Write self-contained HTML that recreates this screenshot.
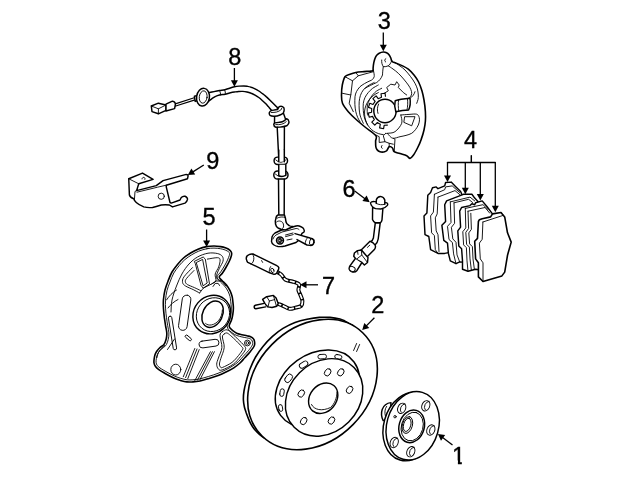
<!DOCTYPE html>
<html><head><meta charset="utf-8"><title>Brake components diagram</title>
<style>
html,body{margin:0;padding:0;background:#fff;}
svg{display:block;filter:grayscale(1);}
.lb{font-family:"Liberation Sans",Arial,sans-serif;font-size:23.5px;fill:#000;stroke:#000;stroke-width:0.35px;}
.o{stroke:#000;stroke-width:1.45;stroke-linejoin:round;stroke-linecap:round;}
.t{stroke:#000;stroke-width:0.9;stroke-linejoin:round;stroke-linecap:round;}
.h{stroke:#000;stroke-width:1.6;stroke-linejoin:round;stroke-linecap:round;}
</style></head><body>
<svg width="640" height="480" viewBox="0 0 640 480">
<rect width="640" height="480" fill="#fff"/>
<g id="rotor">
<path d="M353.4,325.8 C352.7,325.4 350.8,324.4 349.4,323.6 C348.0,322.8 346.6,322.0 345.0,321.2 C343.4,320.4 342.5,319.6 340.0,319.0 C337.5,318.4 333.4,317.7 330.0,317.4 C326.6,317.1 323.2,317.1 319.4,317.4 C315.6,317.7 311.1,318.4 307.0,319.2 C302.9,320.0 299.0,320.9 295.0,322.4 C291.0,323.9 286.8,326.1 283.0,328.4 C279.2,330.7 275.8,333.4 272.5,336.4 C269.2,339.4 265.8,343.0 263.0,346.4 C260.2,349.8 257.8,353.2 255.6,357.0 C253.4,360.8 251.6,364.9 250.0,369.0 C248.4,373.1 247.2,377.7 246.2,381.4 C245.2,385.1 244.5,387.9 244.0,391.0 C243.5,394.1 243.3,397.3 243.4,400.0 C243.5,402.7 243.9,404.9 244.4,407.0 C244.9,409.1 245.6,410.9 246.2,412.8 C246.9,414.7 247.6,416.7 248.4,418.6 C249.2,420.5 250.1,422.5 251.0,424.2 C251.9,425.9 252.9,427.4 254.0,428.8 C255.1,430.2 256.2,431.2 257.4,432.4 C258.6,433.5 259.9,434.8 261.0,435.7 C262.1,436.6 263.8,437.6 264.3,438.0 L312,384 Z" fill="#fff" stroke="none"/>
<path d="M353.4,325.8 C352.7,325.4 350.8,324.4 349.4,323.6 C348.0,322.8 346.6,322.0 345.0,321.2 C343.4,320.4 342.5,319.6 340.0,319.0 C337.5,318.4 333.4,317.7 330.0,317.4 C326.6,317.1 323.2,317.1 319.4,317.4 C315.6,317.7 311.1,318.4 307.0,319.2 C302.9,320.0 299.0,320.9 295.0,322.4 C291.0,323.9 286.8,326.1 283.0,328.4 C279.2,330.7 275.8,333.4 272.5,336.4 C269.2,339.4 265.8,343.0 263.0,346.4 C260.2,349.8 257.8,353.2 255.6,357.0 C253.4,360.8 251.6,364.9 250.0,369.0 C248.4,373.1 247.2,377.7 246.2,381.4 C245.2,385.1 244.5,387.9 244.0,391.0 C243.5,394.1 243.3,397.3 243.4,400.0 C243.5,402.7 243.9,404.9 244.4,407.0 C244.9,409.1 245.6,410.9 246.2,412.8 C246.9,414.7 247.6,416.7 248.4,418.6 C249.2,420.5 250.1,422.5 251.0,424.2 C251.9,425.9 252.9,427.4 254.0,428.8 C255.1,430.2 256.2,431.2 257.4,432.4 C258.6,433.5 259.9,434.8 261.0,435.7 C262.1,436.6 263.8,437.6 264.3,438.0" class="h" fill="none"/>
<ellipse cx="312.5" cy="384.5" rx="72.1" ry="57" transform="rotate(-45.6 312.5 384.5)" class="h" fill="#fff"/>
<ellipse cx="317.3" cy="388.7" rx="45.4" ry="34.6" transform="rotate(-36 317.3 388.7)" class="o" fill="#fff"/>
<ellipse cx="324.1" cy="397.4" rx="42.3" ry="34.8" transform="rotate(-45 324.1 397.4)" class="o" fill="#fff"/>
<ellipse cx="323.2" cy="398.2" rx="16.5" ry="13.2" transform="rotate(-50 323.2 398.2)" class="o" fill="#fff"/>
<path d="M311.5,404.5 C314,410 322,411.5 330.5,407.5 C334.5,404 337,398 337,392" class="t" fill="none"/>
<ellipse cx="301.3" cy="393.5" rx="3.9" ry="2.9" transform="rotate(-55 301.3 393.5)" class="t" fill="#fff"/>
<ellipse cx="327.7" cy="372.3" rx="3.9" ry="2.9" transform="rotate(-55 327.7 372.3)" class="t" fill="#fff"/>
<ellipse cx="340.8" cy="372.3" rx="3.9" ry="2.9" transform="rotate(-55 340.8 372.3)" class="t" fill="#fff"/>
<ellipse cx="349.6" cy="389.8" rx="3.9" ry="2.9" transform="rotate(-55 349.6 389.8)" class="t" fill="#fff"/>
<ellipse cx="331.5" cy="420.5" rx="3.9" ry="2.9" transform="rotate(-55 331.5 420.5)" class="t" fill="#fff"/>
<ellipse cx="303.7" cy="421" rx="3.9" ry="2.9" transform="rotate(-55 303.7 421)" class="t" fill="#fff"/>
<rect x="317.9" y="354.40000000000003" width="8.6" height="4.4" rx="2.2" ry="2.2" transform="rotate(-3 322.2 356.6)" class="t" fill="#fff"/>
<rect x="334.7" y="354.8" width="7.2" height="4.0" rx="2.0" ry="2.0" transform="rotate(12 338.3 356.8)" class="t" fill="#fff"/>
<rect x="299.0" y="362.1" width="9.2" height="5.0" rx="2.5" ry="2.5" transform="rotate(-32 303.6 364.6)" class="t" fill="#fff"/>
<rect x="284.0" y="375.5" width="9.2" height="5.6" rx="2.8" ry="2.8" transform="rotate(-52 288.6 378.3)" class="t" fill="#fff"/>
<rect x="278.2" y="390.6" width="7.6" height="4.0" rx="2.0" ry="2.0" transform="rotate(-80 282 392.6)" class="t" fill="#fff"/>
<rect x="277.20000000000005" y="406.1" width="6.8" height="3.8" rx="1.9" ry="1.9" transform="rotate(-100 280.6 408)" class="t" fill="#fff"/>
<path d="M353.6,350.5 L356.6,343.5 M356.6,351.5 L359.6,344.5" class="t" fill="none"/>
</g>
<g id="hub">
<path d="M391,402.6 C387,403 383.6,405.6 382.2,409.4 C381,413 381.4,417 383.2,420.6 L390,418 Z" class="o" fill="#fff"/>
<path d="M386.6,406.4 C384.8,409 384.4,412.6 385.4,416" class="t" fill="none"/>
<ellipse cx="409.6" cy="426.6" rx="34.8" ry="25.9" transform="rotate(-74 409.6 426.6)" class="o" fill="#fff"/>
<ellipse cx="412.7" cy="425.8" rx="34.8" ry="25.9" transform="rotate(-74 412.7 425.8)" class="o" fill="#fff"/>
<ellipse cx="411.7" cy="426.3" rx="16.6" ry="12.6" transform="rotate(-74 411.7 426.3)" class="o" fill="#fff"/>
<ellipse cx="412.2" cy="426.5" rx="14.6" ry="10.8" transform="rotate(-74 412.2 426.5)" class="t" fill="#fff"/>
<ellipse cx="407.4" cy="425" rx="8.6" ry="5.0" transform="rotate(-74 407.4 425)" class="t" fill="#fff"/>
<ellipse cx="407.2" cy="424.8" rx="6.8" ry="3.6" transform="rotate(-74 407.2 424.8)" class="t" fill="#fff"/>
<ellipse cx="401.7" cy="408.3" rx="5.4" ry="3.9" transform="rotate(-66 401.7 408.3)" class="t" fill="#fff"/>
<path d="M404.87,403.90 A4.9 3.5 -66 0 0 401.13,412.30" class="t" fill="none"/>
<ellipse cx="425.8" cy="405.8" rx="5.4" ry="3.9" transform="rotate(-66 425.8 405.8)" class="t" fill="#fff"/>
<path d="M428.97,401.40 A4.9 3.5 -66 0 0 425.23,409.80" class="t" fill="none"/>
<ellipse cx="430.8" cy="430" rx="5.4" ry="3.9" transform="rotate(-66 430.8 430)" class="t" fill="#fff"/>
<path d="M433.97,425.60 A4.9 3.5 -66 0 0 430.23,434.00" class="t" fill="none"/>
<ellipse cx="410.8" cy="451.7" rx="5.4" ry="3.9" transform="rotate(-66 410.8 451.7)" class="t" fill="#fff"/>
<path d="M413.97,447.30 A4.9 3.5 -66 0 0 410.23,455.70" class="t" fill="none"/>
<ellipse cx="394.2" cy="442.5" rx="5.4" ry="3.9" transform="rotate(-66 394.2 442.5)" class="t" fill="#fff"/>
<path d="M397.37,438.10 A4.9 3.5 -66 0 0 393.63,446.50" class="t" fill="none"/>
<ellipse cx="395" cy="416.7" rx="1.2" ry="1.2" transform="rotate(0 395 416.7)" class="t" fill="#fff"/>
</g>
<g id="abs">
<path d="M151.3,106.0 L158.4,103.2 L166.0,105.0 L166.0,110.4 L158.4,113.8 L152.0,111.6 Z" class="o" fill="#fff"/>
<path d="M151.3,106.0 L158.4,108.8 L166.0,105.0" class="t" fill="none"/>
<path d="M158.4,108.8 L158.4,113.8" class="t" fill="none"/>
<path d="M166,104.2 L172.4,101.2 C174.5,101.6 175.6,103 175.3,104.8 L174.6,108.6 L166,111 Z" class="o" fill="#fff"/>
<path d="M175.3,103.9 L195,97.5 M175,106.3 L195,99.9" stroke="#000" stroke-width="1.15" fill="none"/>
<path d="M194.4,96.2 L198.6,95.2 L199.4,100.4 L195.2,101.4 Z" class="o" fill="#fff"/>
<path d="M208.5,92.8 C209.4,92.6 212.2,92.0 214.0,91.6 C215.8,91.2 217.7,90.8 219.5,90.5 C221.3,90.2 223.3,90.1 225.0,89.7 C226.7,89.3 228.0,88.7 229.6,88.2 C231.2,87.7 232.8,87.2 234.4,86.8 C236.0,86.4 237.4,86.2 239.0,86.1 C240.6,86.0 242.3,86.0 243.8,86.0 C245.2,86.0 246.3,86.2 247.6,86.4 C248.8,86.6 250.0,86.9 251.2,87.3 C252.5,87.7 253.8,88.3 255.0,88.9 C256.2,89.5 257.5,90.2 258.8,91.0 C260.0,91.8 261.2,92.7 262.5,93.6 C263.8,94.5 265.0,95.5 266.2,96.6 C267.5,97.7 268.8,99.0 270.0,100.2 C271.2,101.4 272.4,102.6 273.8,104.0 C275.1,105.4 277.6,107.7 278.4,108.4 L272.4,111.6 C272.2,111.3 271.7,110.7 271.0,109.8 C270.3,108.9 269.1,107.5 268.2,106.4 C267.2,105.3 266.3,104.2 265.3,103.2 C264.3,102.2 263.1,101.2 262.0,100.2 C260.9,99.2 259.9,98.3 258.8,97.5 C257.6,96.7 256.2,95.9 255.0,95.2 C253.8,94.5 252.6,93.8 251.2,93.3 C249.9,92.8 248.4,92.3 247.0,92.0 C245.6,91.7 244.2,91.5 242.8,91.4 C241.4,91.3 240.0,91.4 238.6,91.5 C237.2,91.6 235.9,91.8 234.4,92.0 C232.9,92.2 231.2,92.6 229.6,93.0 C228.0,93.4 226.7,93.9 225.0,94.2 C223.3,94.5 221.1,94.6 219.5,95.0 C217.9,95.4 216.8,95.8 215.6,96.4 C214.3,97.0 213.2,97.8 212.0,98.6 C210.8,99.4 209.1,100.9 208.5,101.4 Z" class="o" fill="#fff"/>
<path d="M224.4,89.8 C225.3,91.2 225.6,92.8 225.3,94.2 M219.4,90.6 C220.4,92.2 220.7,93.8 220.5,95" class="t" fill="none"/>
<ellipse cx="203" cy="97.2" rx="6.4" ry="8.9" transform="rotate(8 203 97.2)" class="o" fill="#fff"/>
<ellipse cx="203.2" cy="97" rx="3.9" ry="6.2" transform="rotate(8 203.2 97)" class="t" fill="#fff"/>
<path d="M274.6,115 L274.5,124 L286.2,121 L283.2,112.6 Z" class="o" fill="#fff"/>
<path d="M269.2,112.9 C269.6,111.6 270.6,110.8 271.7,110.4 L277.5,109.6 C278.2,108.4 278.6,107.4 279.2,106.7 C280.4,106.2 281.6,106.2 282.5,106.7 C283.8,107.4 284.4,108.4 284.2,109.6 C284.2,110.8 283.9,111.9 283.3,112.9 C282.4,113.8 281.2,114.5 280,115 C278,115.9 276,116.3 274.2,116.25 C272.4,116.3 271,116.1 270,115.4 C269.4,114.6 269.1,113.8 269.2,112.9 Z" class="o" fill="#fff"/>
<path d="M271.25,112.5 C273,112.6 275,112.4 276.7,112 C278.4,111.4 279.8,110.8 280.8,110 C281.4,109.4 281.6,108.8 281.7,108.3" class="t" fill="none"/>
<path d="M273.75,124.4 C274,123.6 274.4,123.2 275,122.9 L281.7,122 C283.4,121.4 284.8,120.6 285.8,119.6 L286.25,118.75 C287.2,118.9 287.9,119.4 288.3,120 C289,121.2 289.2,122.3 288.75,123.3 C288.3,124.4 287.6,125.2 286.7,125.8 C284.6,126.6 282.4,127 280,127.1 L275.6,127.2 C274.4,126.6 273.8,125.6 273.75,124.4 Z" class="o" fill="#fff"/>
<path d="M275.8,124.6 C277.8,124.8 279.8,124.7 281.7,124.2 C283.6,123.6 285.2,122.8 286.25,121.7" class="t" fill="none"/>
<path d="M277.2,127.2 L278.75,158.5 M284.4,126.4 L284.3,158.5" class="o" fill="none"/>
<g transform="rotate(0 280.8 160.8)">
<rect x="274.10" y="157.10" width="13.4" height="7.4" rx="3.50" ry="3.50" class="o" fill="#fff"/>
<path d="M275.70,159.90 Q280.80,165.10 286.10,159.70" class="t" fill="none"/>
</g>
<rect x="278.75" y="150" width="5.5" height="11.4" fill="#fff" stroke="none"/>
<path d="M278.75,150 L278.75,161.6 M284.3,150 L284.3,161.8" class="o" fill="none"/>
<g transform="rotate(0 280.9 175)">
<rect x="273.80" y="171.00" width="14.2" height="8" rx="3.80" ry="3.80" class="o" fill="#fff"/>
<path d="M275.40,174.10 Q280.90,179.60 286.60,173.90" class="t" fill="none"/>
</g>
<path d="M278.75,164.8 L278.75,175.6 C280.5,176.6 283.5,176.6 285.8,175.4 L285.8,164.8" class="o" fill="#fff"/>
<path d="M278.5,179.2 L278.8,214.5 M284.3,179.2 L284.2,214.5" class="o" fill="none"/>
<path d="M272,237 C272.6,235.2 273.6,234 275,233 L281.5,230 L296,226 C297.6,225.6 299.2,225.8 300.5,226.5 C302.4,227.2 303.6,228.2 304,229.5 C304.4,230.6 304.4,231.4 304,232 L302,233.4 L298.5,240.5 L296,242.5 L285,246 C282.6,246.6 280.2,246.8 278,246.5 C276.2,246.2 275,245.6 274,245 C272.4,244 271.6,242.8 271.5,241.5 Z" class="o" fill="#fff"/>
<path d="M273,239 C273.6,237.4 274.6,236 276,235 L282,232 L296,228.5 C297.2,228.4 298.2,228.8 299,229.5" class="t" fill="none"/>
<path d="M285.5,235 L293,233 M285.6,236.6 L293.2,234.6 M287,240 L292,239" class="t" fill="none"/>
<path d="M278,215 C276.6,215.8 276,216.8 276,218 C275.2,220 275.2,222 275.5,224 C275.9,225.8 276.8,227.2 278,228 L281.5,229.5 L285.6,230 L293,226.5 C291.4,226.6 290,226.2 289,225.5 C287.4,224.6 286.4,223.4 286,222 C285.8,219.6 285.4,217.2 284.5,215 Z" class="o" fill="#fff"/>
<path d="M277,218.2 C279.6,216.8 282.6,216.6 285,217.4" class="t" fill="none"/>
<path d="M276.5,222 C277.4,221.2 278.4,221 279.5,221 C281.2,221.2 282.4,222 283,223 C283.6,224.4 283.8,225.8 283.5,227 C283,228.2 282.4,229 281.5,229.5" class="t" fill="none"/>
<ellipse cx="280" cy="240.5" rx="3.5" ry="3.5" transform="rotate(0 280 240.5)" class="o" fill="#fff"/>
<ellipse cx="280" cy="240.5" rx="2.2" ry="2.2" transform="rotate(0 280 240.5)" class="t" fill="none"/>
<ellipse cx="280" cy="240.5" rx="1.2" ry="1.2" transform="rotate(0 280 240.5)" class="t" fill="none"/>
<path d="M295,233.6 L310,238 C312.6,238.6 314.2,240.4 314,242.4 C313.6,244.6 312,245.8 310,245.4 L307,245 L297,239.6" class="o" fill="#fff"/>
<ellipse cx="311.8" cy="241.8" rx="2.2" ry="3.5" transform="rotate(15 311.8 241.8)" class="t" fill="none"/>
<path d="M307,238.4 C305.8,240 305.2,242 305.2,244" class="t" fill="none"/>
</g>
<g id="bracket">
<path d="M128.75,178.75 L142.5,173.1 L153.1,179.4 L138.75,183.75 L136.6,190.6 L156.25,185.6 L163.1,180.6 L186.25,174.4 C187.4,174.4 188.2,175 188.1,175.8 L187.5,178.75 L166.25,185.2 L166.25,186.9 L170,202.5 L171.25,203.1 L180,200 L181.25,197.5 C182.4,196.4 183.8,196 185,196.25 C186.6,197 187.6,198.2 187.5,199.4 C187.2,201 186.4,202.2 185,203.1 L172.5,206.9 L169.4,205 C166.8,204.6 164,204.6 161.25,205 C158.4,206 155.4,207 152.5,207.5 C149.4,207.8 146.4,207.6 143.75,206.9 C141,205.8 138.4,204.4 136.25,202.5 C135,201.4 134.2,200.2 133.75,198.75 C131.4,198 129.8,196.8 129.4,195 Z" class="o" fill="#fff"/>
<path d="M128.8,178.8 L138.8,183.8" class="t" fill="none"/>
<path d="M136.6,190.6 L135.0,191.4 L134.4,200.0" class="t" fill="none"/>
<path d="M137.0,192.2 L157.5,187.2 L166.2,185.2" class="t" fill="none"/>
<ellipse cx="161.25" cy="196.25" rx="3.1" ry="3.1" transform="rotate(0 161.25 196.25)" class="t" fill="none"/>
<path d="M142,178.9 C142,177.6 143.4,177 144.4,177.6 C145,178 145.2,178.8 144.9,179.4" class="t" fill="none"/>
</g>
<g id="shield">
<path d="M206.6,246.6 C209.3,246.1 211.7,246.0 214.0,246.0 C216.3,246.0 218.6,246.3 220.6,246.6 C222.6,246.9 224.4,247.4 226.0,248.0 C227.6,248.6 229.1,249.5 230.0,250.3 C230.9,251.1 231.4,251.9 231.6,252.8 C231.8,253.8 231.7,254.6 231.3,256.0 C230.9,257.4 230.2,259.2 229.4,261.0 C228.6,262.8 227.4,265.0 226.2,267.0 C225.1,269.0 223.7,271.3 222.5,273.0 C221.3,274.7 219.3,275.8 219.2,277.0 C219.1,278.2 220.8,279.2 222.0,280.5 C223.2,281.8 225.2,283.3 226.5,285.0 C227.8,286.7 229.1,288.8 230.0,290.6 C230.9,292.4 231.5,294.3 232.0,296.0 C232.5,297.7 232.6,299.0 232.8,301.0 C233.0,303.0 233.4,305.8 233.4,308.0 C233.4,310.2 233.1,312.4 232.8,314.4 C232.5,316.4 232.1,318.2 231.5,320.0 C230.9,321.8 229.6,323.7 229.3,325.0 C229.1,326.3 228.9,326.7 230.0,328.0 C231.1,329.3 233.9,331.6 235.6,332.6 C237.3,333.7 238.1,333.8 240.0,334.3 C241.9,334.8 245.1,335.4 246.9,335.8 C248.7,336.2 249.5,336.2 250.6,336.7 C251.7,337.2 252.7,337.9 253.4,338.8 C254.1,339.6 254.5,340.8 254.6,342.0 C254.7,343.2 255.0,344.3 254.2,346.0 C253.4,347.7 251.5,350.1 250.0,352.0 C248.5,353.9 246.7,355.7 245.0,357.5 C243.3,359.3 241.9,361.3 240.0,363.0 C238.1,364.7 236.1,366.3 233.8,367.8 C231.4,369.3 228.5,370.8 226.0,372.0 C223.5,373.2 221.6,374.2 218.8,375.3 C215.9,376.4 212.1,377.6 209.0,378.5 C205.9,379.4 202.7,380.4 200.0,381.0 C197.3,381.6 195.2,381.8 193.0,381.9 C190.8,382.0 189.1,382.2 186.9,381.9 C184.7,381.6 182.2,380.9 180.0,380.3 C177.8,379.7 176.1,379.1 173.8,378.0 C171.4,376.9 168.5,375.4 166.0,374.0 C163.5,372.6 160.5,370.9 158.8,369.7 C157.0,368.4 156.3,367.6 155.5,366.5 C154.7,365.4 154.2,364.3 154.0,363.0 C153.8,361.7 154.0,359.9 154.2,358.5 C154.4,357.1 154.6,355.9 155.0,354.7 C155.4,353.5 155.8,352.7 156.6,351.5 C157.4,350.3 158.8,348.7 160.0,347.5 C161.2,346.3 163.0,345.8 164.0,344.4 C165.0,343.0 165.7,340.9 166.2,339.0 C166.7,337.1 166.9,335.2 166.8,333.0 C166.7,330.8 166.0,328.5 165.6,326.0 C165.2,323.5 164.8,320.8 164.4,318.0 C164.1,315.2 163.7,312.0 163.5,309.0 C163.3,306.0 163.2,303.2 163.4,300.0 C163.7,296.8 164.2,293.1 165.0,290.0 C165.8,286.9 166.8,284.2 168.0,281.2 C169.2,278.2 170.4,274.8 172.0,272.0 C173.6,269.2 175.6,266.7 177.5,264.4 C179.4,262.1 181.3,259.9 183.5,258.0 C185.7,256.1 188.2,254.5 190.6,253.0 C193.0,251.5 195.3,250.3 198.0,249.2 C200.7,248.1 203.9,247.1 206.6,246.6 Z" class="h" fill="#fff"/>
<path d="M207.0,248.7 C209.5,248.2 211.8,248.1 214.0,248.1 C216.2,248.1 218.4,248.4 220.3,248.7 C222.1,249.0 223.8,249.4 225.2,250.0 C226.6,250.5 227.9,251.3 228.6,251.9 C229.4,252.4 229.4,252.7 229.6,253.3 C229.7,253.9 229.6,254.3 229.3,255.5 C228.9,256.6 228.3,258.4 227.5,260.1 C226.7,261.9 225.5,264.0 224.4,266.0 C223.3,267.9 222.0,270.0 220.8,271.8 C219.6,273.6 217.2,275.2 217.1,276.9 C217.0,278.5 219.2,280.3 220.4,281.9 C221.7,283.5 223.6,284.7 224.9,286.3 C226.1,287.9 227.3,289.8 228.1,291.5 C229.0,293.2 229.5,294.9 230.0,296.5 C230.4,298.2 230.5,299.3 230.7,301.2 C230.9,303.2 231.3,305.9 231.3,308.0 C231.3,310.1 231.0,312.2 230.7,314.1 C230.4,316.0 230.1,317.6 229.5,319.3 C228.9,321.1 227.4,322.9 227.2,324.6 C227.0,326.3 227.2,327.7 228.4,329.3 C229.6,331.0 232.6,333.2 234.5,334.4 C236.3,335.5 237.4,335.7 239.4,336.3 C241.4,336.9 244.7,337.5 246.4,337.8 C248.2,338.2 248.9,338.3 249.7,338.6 C250.6,339.0 251.3,339.4 251.7,340.0 C252.2,340.6 252.4,341.4 252.5,342.2 C252.6,343.1 253.0,343.7 252.3,345.1 C251.6,346.5 249.8,348.9 248.4,350.7 C246.9,352.5 245.1,354.3 243.4,356.1 C241.8,357.9 240.4,359.8 238.6,361.5 C236.8,363.1 234.9,364.6 232.6,366.0 C230.4,367.5 227.5,368.9 225.1,370.1 C222.6,371.3 220.8,372.3 218.0,373.3 C215.2,374.4 211.5,375.6 208.4,376.5 C205.3,377.4 202.2,378.4 199.6,378.9 C197.0,379.5 194.9,379.7 192.9,379.8 C190.8,379.9 189.2,380.1 187.2,379.8 C185.1,379.6 182.7,378.9 180.6,378.3 C178.5,377.7 176.9,377.1 174.6,376.1 C172.3,375.1 169.5,373.5 167.0,372.2 C164.6,370.8 161.6,369.1 160.0,368.0 C158.3,366.8 157.9,366.2 157.2,365.3 C156.6,364.4 156.2,363.8 156.1,362.7 C155.9,361.6 156.1,360.0 156.3,358.8 C156.4,357.5 156.6,356.4 157.0,355.4 C157.3,354.4 157.6,353.8 158.3,352.7 C159.1,351.6 160.2,350.2 161.5,349.0 C162.7,347.8 164.6,347.2 165.7,345.6 C166.8,344.1 167.7,341.6 168.2,339.5 C168.8,337.4 169.0,335.2 168.9,332.9 C168.8,330.6 168.1,328.2 167.7,325.7 C167.3,323.1 166.8,320.5 166.5,317.7 C166.1,314.9 165.8,311.8 165.6,308.9 C165.4,306.0 165.3,303.2 165.5,300.2 C165.7,297.1 166.3,293.5 167.0,290.5 C167.8,287.5 168.8,284.9 170.0,282.0 C171.1,279.1 172.3,275.7 173.8,273.0 C175.4,270.3 177.3,268.0 179.1,265.7 C181.0,263.5 182.8,261.4 184.9,259.6 C187.0,257.8 189.4,256.2 191.7,254.8 C194.0,253.4 196.2,252.2 198.8,251.1 C201.3,250.1 204.5,249.2 207.0,248.7 Z" class="t" fill="none"/>
<path d="M221.6,281.0 C220.9,280.7 218.1,279.9 217.3,279.0 C216.5,278.1 216.2,277.2 216.6,275.4 C216.9,273.6 218.3,270.7 219.4,268.3 C220.5,265.9 222.5,263.2 223.0,261.2 C223.5,259.2 223.2,257.6 222.3,256.3 C221.4,255.0 219.7,254.0 217.3,253.5 C214.9,253.0 211.3,252.6 208.0,253.2 C204.7,253.8 200.7,255.2 197.5,257.0 C194.3,258.8 191.6,261.2 189.0,264.0 C186.4,266.8 184.0,270.3 181.9,274.0 C179.8,277.7 178.2,281.7 176.5,286.0 C174.8,290.3 172.9,295.7 172.0,300.0 C171.1,304.3 171.2,310.0 171.0,312.0" class="t" fill="none"/>
<path d="M194.7,261.2 L203.2,257.0 L205.3,259.1 L209.5,283.9 L203.2,288.2 L201.0,285.3 L195.4,264.0 Z" class="t" fill="none"/>
<path d="M196.6,262.4 L202.6,259.4 L207.2,283.0 L203.4,285.6 Z" class="t" fill="none"/>
<path d="M207.4,259.1 C209.1,258.9 215.2,257.6 217.3,257.7 C219.4,257.8 219.9,258.3 220.1,259.8 C220.3,261.3 219.5,264.5 218.7,266.9 C217.9,269.3 215.7,271.6 215.2,274.0 C214.7,276.4 216.5,279.4 215.9,281.0 C215.3,282.6 212.4,283.4 211.7,283.9" class="t" fill="none"/>
<path d="M192.5,267.6 C191.1,269.1 185.7,274.3 184.0,276.8 C182.3,279.3 182.3,281.0 182.6,282.5 C182.8,284.0 183.7,284.8 185.5,286.0 C187.3,287.2 190.8,288.4 193.2,289.6 C195.5,290.8 198.5,292.4 199.6,293.0" class="t" fill="none"/>
<path d="M194.0,270.5 C192.8,271.8 187.9,276.6 186.5,278.5 C185.1,280.4 185.2,281.0 185.4,282.0 C185.6,283.0 186.0,283.7 187.5,284.6 C189.0,285.5 192.2,286.6 194.4,287.6 C196.6,288.6 199.5,290.0 200.5,290.5" class="t" fill="none"/>
<ellipse cx="211.8" cy="314.6" rx="20" ry="18.2" transform="rotate(-50 211.8 314.6)" class="o" fill="#fff"/>
<ellipse cx="213" cy="314.6" rx="17.6" ry="16" transform="rotate(-50 213 314.6)" class="t" fill="#fff"/>
<ellipse cx="212.6" cy="314.2" rx="13.9" ry="9.9" transform="rotate(-64 212.6 314.2)" class="o" fill="#fff"/>
<path d="M205.6,323.5 C208.5,326.4 214.4,325.4 218.6,320.6 C221,317.6 222.4,313.6 222.4,310" class="t" fill="none"/>
<path d="M199.6,293 L203.2,288.2 L211.7,283.9 L215.9,281 L221.6,281 L226,286" class="t" fill="none"/>
<path d="M213,286.5 L215.2,283.4 L218.2,283.4 L219.5,285.5" class="t" fill="none"/>
<rect x="180.4" y="295" width="8.6" height="35.5" rx="4.3" ry="4.3" transform="rotate(8 184.7 312.7)" class="t" fill="none"/>
<rect x="170.8" y="316" width="3.4" height="34" rx="1.7" ry="1.7" transform="rotate(-9 172.5 333)" class="t" fill="none"/>
<path d="M168,308 C170,305 174,301.5 178,299.5 M166.5,300 C169,296 172.5,292.5 176.5,290" class="t" fill="none"/>
<rect x="184.6" y="336.6" width="7.4" height="2.6" rx="1.3" ry="1.3" transform="rotate(40 188.3 337.9)" class="t" fill="none"/>
<rect x="199" y="340.2" width="20" height="6.8" rx="3.4" ry="3.4" transform="rotate(-8 209 343.6)" class="t" fill="none"/>
<path d="M194.8,348.5 L183.3,376.7 M197,349 L185.6,377.6 M199.2,349.6 L187.8,378.6" class="t" fill="none"/>
<path d="M210.4,351.7 L194.8,380.6 M212.4,351.7 L197.4,380.2 M214.4,351.7 L200,379.6" class="t" fill="none"/>
<path d="M222.6,331.5 C221.4,332.4 220.1,332.8 220.0,335.5 C219.9,338.2 222.2,343.8 221.9,347.5 C221.6,351.2 219.3,355.2 218.4,358.0 C217.5,360.8 216.7,362.4 216.7,364.2 C216.7,366.0 217.3,367.8 218.2,368.8 C219.1,369.8 219.5,370.8 222.0,370.0 C224.5,369.2 230.2,366.4 233.3,364.2 C236.4,361.9 238.5,358.9 240.5,356.5 C242.5,354.1 244.9,351.3 245.5,349.5 C246.1,347.7 245.2,347.2 244.0,345.5 C242.8,343.8 240.2,341.5 238.2,339.5 C236.2,337.5 233.9,335.1 232.0,333.5 C230.1,331.9 228.6,330.1 227.0,329.8 C225.4,329.5 223.8,330.6 222.6,331.5 Z" class="t" fill="none"/>
<path d="M224.2,334.0 C223.4,334.7 222.4,334.8 222.4,337.0 C222.4,339.2 224.5,343.9 224.2,347.5 C223.9,351.1 221.6,355.8 220.8,358.5 C220.0,361.2 219.5,362.6 219.4,364.0 C219.3,365.4 219.9,366.4 220.4,367.0 C220.9,367.6 220.7,368.2 222.6,367.4 C224.5,366.6 229.3,364.4 232.0,362.4 C234.7,360.4 236.7,357.7 238.5,355.5 C240.3,353.3 242.3,350.7 242.8,349.2 C243.3,347.7 242.7,348.0 241.6,346.6 C240.5,345.2 238.2,342.8 236.4,341.0 C234.6,339.2 232.2,336.9 230.6,335.6 C229.0,334.3 228.1,333.3 227.0,333.0 C225.9,332.7 225.0,333.3 224.2,334.0 Z" class="t" fill="none"/>
<ellipse cx="247.4" cy="343" rx="2.9" ry="2.9" transform="rotate(0 247.4 343)" class="t" fill="#fff"/>
<ellipse cx="247.4" cy="343" rx="1.4" ry="1.4" transform="rotate(0 247.4 343)" class="t" fill="#fff"/>
<ellipse cx="175.8" cy="369.6" rx="5" ry="5.4" transform="rotate(0 175.8 369.6)" class="t" fill="#fff"/>
<path d="M164.6,345.5 C160,349 157.5,353 157,357.5 M167.5,349.5 L174.5,339" class="t" fill="none"/>
</g>
<g id="wear">
<path d="M273.5,270.0 C274.7,270.7 278.9,272.7 280.9,274.3 C282.9,275.9 283.7,278.6 285.6,279.8 C287.5,281.0 290.1,280.8 292.3,281.5 C294.5,282.2 298.0,282.9 299.0,284.3 C300.0,285.7 298.2,288.2 298.4,290.0 C298.6,291.8 299.7,293.2 300.4,295.0 C301.1,296.8 302.3,299.2 302.4,301.0 C302.5,302.8 302.1,304.9 301.0,306.0 C299.9,307.1 297.5,307.1 295.6,307.6 C293.7,308.1 291.6,309.1 289.5,308.8 C287.4,308.5 284.8,306.6 283.0,305.8 C281.2,305.0 279.2,304.3 278.5,304.0" fill="none" stroke="#000" stroke-width="4.0" stroke-linecap="round"/>
<path d="M273.5,270.0 C274.7,270.7 278.9,272.7 280.9,274.3 C282.9,275.9 283.7,278.6 285.6,279.8 C287.5,281.0 290.1,280.8 292.3,281.5 C294.5,282.2 298.0,282.9 299.0,284.3 C300.0,285.7 298.2,288.2 298.4,290.0 C298.6,291.8 299.7,293.2 300.4,295.0 C301.1,296.8 302.3,299.2 302.4,301.0 C302.5,302.8 302.1,304.9 301.0,306.0 C299.9,307.1 297.5,307.1 295.6,307.6 C293.7,308.1 291.6,309.1 289.5,308.8 C287.4,308.5 284.8,306.6 283.0,305.8 C281.2,305.0 279.2,304.3 278.5,304.0" fill="none" stroke="#fff" stroke-width="1.7" stroke-dasharray="5.2 1.5" stroke-linecap="butt"/>
<path d="M249,254.6 C247,255.4 246,257.4 246.4,259.4 C246.8,261.2 247.4,262 247.8,262.3 L269.6,272.8 L274,274.4 C276,274.2 277.4,272.8 277.6,271 C278.4,270 278.9,268.8 278.8,267.6 C278.4,266.6 277.8,266 276.8,265.6 L253,254 C251.6,253.8 250.2,254 249,254.6 Z" class="o" fill="#fff"/>
<path d="M252.6,254.4 C254,256 254.2,258.6 253.4,261 C252.8,262.6 252,263.6 251,264" class="t" fill="none"/>
<path d="M270.6,266.6 C269.4,268.6 269,270.6 269.4,272.6" class="t" fill="none"/>
<ellipse cx="272.4" cy="270.4" rx="1.5" ry="2.2" transform="rotate(-20 272.4 270.4)" class="t" fill="#fff"/>
<path d="M261.6,260.6 L262.6,262.4" class="t" fill="none"/>
<path d="M262.6,299.4 L266.7,296.7 L273.4,295.4 L276.1,298 L278.2,303.5 L276.8,306.2 L272,307.5 L268,306.9 L265.3,304.2 Z" class="o" fill="#fff"/>
<path d="M266.7,296.7 L269.4,301 L268,306.9 M269.4,301 L274.6,299.6 M274.6,299.6 L276.4,306 M274.6,299.6 L273.4,295.4" class="t" fill="none"/>
<path d="M264.2,303.4 L255.4,305.2 C253.6,305.8 253.8,308.6 255.8,308.8 L265.6,306.9" class="o" fill="#fff"/>
</g>
<g id="hose">
<path d="M375.3,222.8 L373.4,238 C372.8,240 371.6,241.4 370.4,242.2 L375,245 C376.6,243.6 377.8,241.6 378.2,239 L380.2,222.8 Z" class="o" fill="#fff"/>
<path d="M372.6,207.6 L372.5,219.6 C373.2,221.4 374.2,222.4 375.3,222.8 L380.2,222.8 C381.2,222.2 381.8,221.2 382,219.8 L382.9,208.2 Z" class="o" fill="#fff"/>
<path d="M370.6,203.4 C370.4,201.8 372.2,201.4 374.6,201.6 L386,202.6 C387.8,203 388,204.6 387.4,205.4 C385.6,207.6 383.4,208.8 381,209 L375.6,208.6 C373,207.8 371.2,205.6 370.6,203.4 Z" class="o" fill="#fff"/>
<path d="M376.2,203.4 L376.4,199.6 C377.2,197.4 378.8,196.4 380.4,196.4 C382.6,196.6 384.2,198 384.8,200 L384.8,204.2" class="o" fill="#fff"/>
<path d="M376.2,203.4 C378.6,204.8 382.4,205.2 384.8,204.2" class="t" fill="none"/>
<path d="M370,241.2 L361.2,250 L366.9,257 L374.4,249.6 C375.6,248 375.8,246.4 375,245 C373.8,243 372,241.6 370,241.2 Z" class="o" fill="#fff"/>
<path d="M367.4,247.4 L369.8,245.2" class="t" fill="none"/>
<path d="M357.5,250.6 L361.25,250 L368,257.5 L367.5,262.5 L364.4,265 L361.9,262.5 L356.25,259.4 L353.75,256.25 L354.4,253 Z" class="o" fill="#fff"/>
<path d="M361.25,250 L361.8,255 L367.5,262.5 M361.8,255 L356.25,259.4 M357.5,250.6 L358,254.4" class="t" fill="none"/>
<path d="M355.2,258.8 L349.6,266.4 C348.8,268.6 349.8,270.6 351.6,271.6 C353.6,272.4 355.6,272 357,270.4 L361.6,263" class="o" fill="#fff"/>
<ellipse cx="352.2" cy="269" rx="3.1" ry="2.4" transform="rotate(25 352.2 269)" class="t" fill="#fff"/>
</g>
<g id="caliper">
<path d="M373.1,70.4 C373.2,70.0 373.1,69.3 373.1,68.6 C373.1,67.9 373.2,67.0 373.3,66.0 C373.4,65.0 373.6,63.8 373.8,62.6 C374.1,61.4 374.4,60.2 374.8,59.0 C375.2,57.8 375.7,56.6 376.4,55.6 C377.1,54.6 378.0,53.8 379.2,53.2 C380.4,52.6 382.1,52.1 383.3,52.0 C384.5,51.9 385.6,52.3 386.6,52.8 C387.6,53.3 388.5,54.1 389.2,55.0 C389.9,55.9 390.4,57.1 390.8,58.0 C391.2,58.9 391.2,59.8 391.5,60.4 C391.8,61.0 392.0,61.4 392.6,61.8 C393.2,62.2 393.4,62.1 395.0,62.7 C396.6,63.3 399.8,64.5 402.0,65.6 C404.2,66.7 406.3,67.6 408.3,69.2 C410.3,70.8 412.3,72.9 414.0,75.0 C415.7,77.1 417.3,79.3 418.6,82.0 C419.9,84.7 421.1,88.0 422.0,91.0 C422.9,94.0 423.4,96.5 424.0,100.0 C424.6,103.5 425.2,108.2 425.4,111.7 C425.6,115.2 425.6,118.0 425.4,121.0 C425.2,124.0 424.7,126.9 424.0,130.0 C423.3,133.1 422.3,136.4 421.2,139.4 C420.2,142.4 418.8,145.4 417.5,148.0 C416.2,150.6 414.8,153.3 413.5,155.0 C412.2,156.7 411.1,158.3 410.0,158.4 C408.9,158.5 408.4,156.6 406.7,155.8 C405.0,155.0 402.1,154.3 400.0,153.6 C397.9,152.9 395.4,152.6 394.2,151.7 C392.9,150.8 393.3,148.8 392.5,148.0 C391.7,147.2 390.2,146.2 389.2,146.7 C388.2,147.2 387.6,149.9 386.7,150.8 C385.8,151.7 384.6,151.8 383.5,152.0 C382.4,152.2 381.1,152.1 380.0,151.7 C378.9,151.3 377.7,150.4 377.0,149.6 C376.3,148.8 376.0,148.1 375.8,146.7 C375.6,145.3 375.6,142.9 375.6,141.0 C375.6,139.1 377.6,137.8 375.8,135.5 C374.0,133.2 368.2,129.6 365.0,127.0 C361.8,124.4 359.5,122.5 356.7,120.0 C353.9,117.5 350.7,114.5 348.3,111.7 C345.9,108.9 343.6,106.1 342.5,103.3 C341.4,100.5 341.5,98.0 341.5,95.0 C341.5,92.0 341.7,88.0 342.3,85.0 C342.9,82.0 343.7,78.5 345.0,76.7 C346.3,74.9 348.2,75.0 350.0,74.3 C351.8,73.6 353.5,73.0 355.8,72.5 C358.1,72.0 362.0,71.8 364.0,71.6 C366.0,71.4 366.8,71.4 368.0,71.3 C369.2,71.2 370.2,71.2 371.0,71.1 C371.8,71.0 372.1,71.0 372.5,70.9 C372.9,70.8 373.0,70.8 373.1,70.4 Z" class="h" fill="#fff"/>
<path d="M385.8,58.6 C384.4,59.2 384.2,61.2 385.6,62" class="t" fill="none"/>
<path d="M373.3,70 C374,73 374.4,75 374.2,76.7 C373.4,79 372,80.2 370,80.8 C366,82.6 362.5,84.6 360,86.7 C357,90 355.4,93 355,96.7 C354.6,102 354.8,107 355.8,111.7 C356.8,116 358.2,119 360,121.7" class="t" fill="none"/>
<path d="M391.7,60.8 C390.6,63.4 389.6,65 388.3,65.8 C386.6,66.6 385,66.8 383.3,66.7 C382.8,70 382.6,72.5 382.5,75 C381.2,78.5 379.2,80.8 376.7,82.5 C372,84.6 368.4,86.4 365,88.3" class="t" fill="none"/>
<path d="M383.3,66.7 C381.9,64.6 381.5,62.4 381.7,60" class="t" fill="none"/>
<path d="M374.2,82.5 C373.2,83.0 369.8,84.5 368.0,85.8 C366.2,87.0 364.6,88.4 363.3,90.0 C362.0,91.6 361.1,93.5 360.4,95.5 C359.7,97.5 359.4,99.5 359.2,101.7 C359.0,104.0 359.1,106.8 359.2,109.0 C359.3,111.2 359.6,113.2 360.0,115.0 C360.4,116.8 361.1,118.1 361.6,119.5 C362.2,120.9 363.0,122.7 363.3,123.3" class="t" fill="none"/>
<path d="M378.3,85.0 C377.3,85.6 374.2,87.2 372.5,88.4 C370.8,89.7 369.6,91.0 368.3,92.5 C367.1,94.0 365.8,95.7 365.0,97.5 C364.2,99.3 363.6,101.1 363.3,103.3 C363.0,105.5 363.2,108.3 363.3,110.5 C363.4,112.7 363.8,115.0 364.2,116.7 C364.6,118.5 365.1,119.6 365.6,121.0 C366.2,122.4 367.2,124.3 367.5,125.0" class="t" fill="none"/>
<path d="M381.7,88.3 C380.9,88.8 378.1,89.9 376.6,91.0 C375.1,92.1 373.7,93.5 372.5,95.0 C371.3,96.5 370.2,98.1 369.4,99.8 C368.6,101.5 367.9,103.3 367.5,105.0 C367.1,106.7 367.2,108.3 367.2,110.0 C367.2,111.7 367.4,114.2 367.5,115.0" class="t" fill="none"/>
<path d="M355.8,72.5 L358.3,75.8 L352.5,80.8 L345.0,76.7" class="t" fill="none"/>
<path d="M358.3,75.8 L373.3,71.7" class="t" fill="none"/>
<path d="M352.5,80.8 L350.8,95.0 L342.5,93.3" class="t" fill="none"/>
<path d="M350.8,95.0 L349.2,103.3 L353.3,111.7" class="t" fill="none"/>
<path d="M378.3,92.6 C371,95.6 365.4,103 364.6,111 C364,119.5 367.6,127 373.3,131 C376.5,133.2 380,134.4 383.3,134.6" class="t" fill="none"/>
<path d="M385.5,96.8 L385.1,93.2 L381.0,93.7 L381.5,97.3 L378.2,98.7 L376.1,95.9 L372.9,98.6 L375.1,101.4 L373.0,104.5 L369.8,103.3 L368.4,107.4 L371.7,108.5 L371.6,112.2 L368.2,113.1 L369.2,117.2 L372.5,116.4 L374.3,119.6 L371.8,122.2 L374.8,125.2 L377.2,122.6 L380.3,124.3 L379.6,127.9 L383.6,128.7 L384.2,125.2 L387.8,125.1" fill="none" stroke="#000" stroke-width="1.15" stroke-linejoin="round"/>
<ellipse cx="385" cy="111" rx="11.2" ry="11.8" transform="rotate(0 385 111)" class="o" fill="#fff"/>
<path d="M378.6,104 C377.2,107 377,110.4 378,113.4" class="t" fill="none"/>
<path d="M384.2,93.3 L388.3,90.8 L386.7,87.5 L390.8,84.2 L395.0,85.0 L396.7,81.7 L399.2,85.0 L398.3,87.5 L403.3,92.5 L406.7,95.0" class="t" fill="none"/>
<path d="M388.3,65.8 C389.1,66.3 391.3,67.8 393.0,69.0 C394.7,70.2 396.5,71.6 398.3,73.3 C400.1,75.0 401.9,77.0 403.6,79.0 C405.3,81.0 407.1,83.3 408.3,85.0 C409.5,86.7 410.2,88.0 410.8,89.4 C411.4,90.8 411.7,92.1 411.7,93.3 C411.7,94.5 411.2,95.6 410.6,96.4 C410.0,97.2 408.7,98.0 408.3,98.3" class="t" fill="none"/>
<path d="M395.0,62.5 C395.8,63.1 398.3,64.8 400.0,66.0 C401.7,67.2 403.2,68.2 405.0,70.0 C406.8,71.8 408.8,74.3 410.5,76.5 C412.2,78.7 413.9,81.2 415.0,83.3 C416.1,85.4 416.8,87.0 417.4,89.0 C417.9,91.0 418.2,93.2 418.3,95.0 C418.4,96.8 418.3,98.1 418.0,99.5 C417.7,100.9 416.9,102.7 416.7,103.3" class="t" fill="none"/>
<path d="M395.2,100.8 C399,99.4 404,98.8 410,98.3 C410.6,102 410.4,106 408.6,110 C404,110.2 400,110.8 395.8,111.7 C394.6,108 394.4,104 395.2,100.8 Z" class="o" fill="#fff"/>
<path d="M398.6,100 C398,103.5 398.2,107.5 398.8,111 M407.4,98.6 C408,102 407.8,106.4 407,110" class="t" fill="none"/>
<path d="M410,98.3 C412.6,96.6 414.4,94.2 415,91.7" class="t" fill="none"/>
<path d="M400.8,115.0 C402.2,114.9 406.4,114.5 409.0,114.4 C411.6,114.3 415.0,113.7 416.7,114.2 C418.4,114.7 418.8,116.4 419.2,117.5 C419.6,118.6 419.5,119.8 419.4,121.0 C419.2,122.2 418.9,123.6 418.3,125.0 C417.7,126.4 416.6,128.2 415.5,129.6 C414.4,131.0 413.3,132.3 411.7,133.3 C410.1,134.3 407.9,134.8 406.0,135.4 C404.1,136.0 402.1,136.2 400.0,136.7 C397.9,137.2 395.0,138.4 393.3,138.3 C391.6,138.2 391.0,137.2 390.0,136.4 C389.0,135.6 387.9,133.8 387.5,133.3" class="t" fill="none"/>
<path d="M405.0,116.7 L415.0,116.7 L411.7,125.8 L404.2,122.5 Z" class="t" fill="none"/>
<path d="M400.8,115.0 C400.9,116.4 402.7,120.5 401.7,123.3 C400.7,126.1 397.4,130.0 395.0,131.7 C392.6,133.4 389.0,133.0 387.5,133.3 C386.0,133.6 386.1,133.3 385.8,133.3" class="t" fill="none"/>
<path d="M375.8,135 L379.2,136.7 L379.2,142.5 L385,141.7 L383.3,135.8 L385.8,133.3" class="t" fill="none"/>
<path d="M385,141.7 L389.2,143.3 L389.2,146.7 M389.2,143.3 L393.3,144.2" class="t" fill="none"/>
<path d="M382,145.4 C381,146.2 381,147.8 382.2,148.4" class="t" fill="none"/>
<path d="M393.3,138.3 L395.0,139.2 L394.6,145.0 L394.2,151.7" class="t" fill="none"/>
</g>
<g id="pads" transform="translate(0,0.9)">
<path d="M430.6,191.6 L432.5,186.9 L436.2,186.0 L438.0,187.8 L444.7,185.0 L445.6,181.6 L451.2,181.2 L455.5,185.5 L460.6,190.6 L463.0,196.0 L464.0,230.0 L458.0,250.0 L444.7,252.5 L438.0,252.5 L430.6,248.8 L428.8,235.6 L425.0,233.8 L424.0,215.0 L426.9,212.2 L427.8,194.4 Z" class="o" fill="#fff"/>
<path d="M434.4,193.4 L433.4,211.2 L430.6,215.0 L431.6,231.9 L434.4,234.7 L435.3,248.8 L438.0,252.5" class="t" fill="none"/>
<path d="M438.0,196.2 L437.2,213.0 L435.3,216.9 L436.2,230.0 L438.0,233.8 L439.0,250.6" class="t" fill="none"/>
<path d="M434.4,193.4 L444.7,188.8 L445.6,186.0 L452.2,185.0 L459.7,191.6" class="t" fill="none"/>
<path d="M438.0,196.2 L455.0,189.7 L460.6,194.4" class="t" fill="none"/>
<path d="M446.6,200.0 L463.4,193.4 L471.9,193.4 L474.7,197.2 L477.5,200.0 L480.0,206.0 L480.0,240.0 L472.0,262.0 L459.7,261.0 L456.0,262.8 L450.3,260.0 L448.4,252.5 L447.5,242.2 L443.8,239.4 L441.9,224.4 L445.6,220.6 L444.7,203.8 Z" class="o" fill="#fff"/>
<path d="M450.3,201.0 L451.0,221.6 L447.5,225.4 L449.0,238.6 L452.4,241.6 L453.6,253.0 L456.0,262.8" class="t" fill="none"/>
<path d="M454.0,201.9 L454.6,222.4 L451.4,226.4 L452.8,238.0 L456.0,241.4 L457.0,254.0 L459.7,261.0" class="t" fill="none"/>
<path d="M450.3,201.0 L470.0,196.2 L474.7,200.0" class="t" fill="none"/>
<path d="M454.0,201.9 L468.6,198.4 L472.6,201.6" class="t" fill="none"/>
<path d="M461.6,206.6 L470.0,204.7 L471.9,202.8 L474.7,203.8 L475.6,201.9 L482.2,200.0 L486.9,205.6 L492.5,213.0 L494.0,220.0 L494.0,250.0 L486.0,270.0 L475.6,268.4 L468.0,270.3 L462.5,268.4 L462.5,260.0 L461.6,247.8 L458.8,245.0 L457.8,230.0 L460.6,226.2 L459.7,210.3 Z" class="o" fill="#fff"/>
<path d="M465.3,207.5 L465.8,227.0 L462.8,230.8 L463.6,244.0 L466.4,246.8 L467.0,260.0 L468.0,270.3" class="t" fill="none"/>
<path d="M468.0,210.3 L468.6,227.6 L465.8,231.4 L466.6,243.4 L469.4,246.2 L470.0,258.0 L471.4,269.4" class="t" fill="none"/>
<path d="M470.8,212.4 L471.4,228.4 L468.8,232.0 L469.6,243.0 L472.4,245.8 L473.0,258.0 L474.4,268.6" class="t" fill="none"/>
<path d="M465.3,207.5 L483.0,203.8 L487.8,208.4" class="t" fill="none"/>
<path d="M468.0,210.3 L485.0,206.6 L489.7,212.2" class="t" fill="none"/>
<path d="M482.2,217.8 L479.4,218.8 L478.4,220.6 L477.5,237.5 L474.7,240.3 L475.6,258.0 L478.4,261.9 L478.4,276.0 L483.0,280.6 L501.9,275.0 L504.7,271.2 L507.5,254.4 L511.2,241.2 L507.5,231.9 L504.7,216.0 L501.0,211.6 L492.5,213.0 L490.6,216.0 Z" class="h" fill="#fff"/>
<path d="M482.9,221.1 L482.2,238.4 L479.4,242.2 L480.3,258.0 L483.0,261.9 L483.0,280.6" class="t" fill="none"/>
<path d="M482.9,221.1 L503.4,214.4" class="t" fill="none"/>
</g>
<g id="labels">
<text x="384.3" y="29.2" text-anchor="middle" class="lb">3</text>
<text x="234.9" y="65.1" text-anchor="middle" class="lb">8</text>
<text x="470.5" y="148.1" text-anchor="middle" class="lb">4</text>
<text x="212.7" y="169.2" text-anchor="middle" class="lb">9</text>
<text x="349" y="196.5" text-anchor="middle" class="lb">6</text>
<text x="209" y="224.5" text-anchor="middle" class="lb">5</text>
<text x="328.5" y="294" text-anchor="middle" class="lb">7</text>
<text x="377.7" y="313" text-anchor="middle" class="lb">2</text>
<clipPath id="c1"><rect x="448" y="440" width="20" height="20.4"/><rect x="457.9" y="460.3" width="3.9" height="6"/></clipPath>
<g clip-path="url(#c1)">
<text x="458.5" y="463.8" text-anchor="middle" class="lb">1</text>
</g>
<line x1="383.3" y1="32.5" x2="383.3" y2="45.8" stroke="#000" stroke-width="1.3"/>
<polygon points="383.3,51.3 379.8,44.8 386.8,44.8" fill="#000" stroke="none"/>
<line x1="234.4" y1="68.0" x2="234.4" y2="81.3" stroke="#000" stroke-width="1.3"/>
<polygon points="234.4,86.8 230.9,80.3 237.9,80.3" fill="#000" stroke="none"/>
<line x1="203.8" y1="165.0" x2="192.5" y2="172.1" stroke="#000" stroke-width="1.3"/>
<polygon points="187.8,175.0 191.4,168.6 195.2,174.5" fill="#000" stroke="none"/>
<line x1="354.7" y1="191.0" x2="365.3" y2="198.9" stroke="#000" stroke-width="1.3"/>
<polygon points="369.7,202.2 362.4,201.1 366.6,195.5" fill="#000" stroke="none"/>
<line x1="206.6" y1="229.5" x2="206.6" y2="241.5" stroke="#000" stroke-width="1.3"/>
<polygon points="206.6,247.0 203.1,240.5 210.1,240.5" fill="#000" stroke="none"/>
<line x1="318.0" y1="284.8" x2="305.5" y2="284.8" stroke="#000" stroke-width="1.3"/>
<polygon points="300.0,284.8 306.5,281.3 306.5,288.3" fill="#000" stroke="none"/>
<line x1="374.4" y1="317.8" x2="366.1" y2="326.1" stroke="#000" stroke-width="1.3"/>
<polygon points="362.2,330.0 364.3,322.9 369.3,327.9" fill="#000" stroke="none"/>
<line x1="452.5" y1="445.0" x2="442.3" y2="437.3" stroke="#000" stroke-width="1.3"/>
<polygon points="437.9,434.0 445.2,435.1 441.0,440.7" fill="#000" stroke="none"/>
<path d="M471.3,155.6 L471.3,162.5 M447.5,162.5 L495.3,162.5" class="o" fill="none"/>
<line x1="447.5" y1="162.5" x2="447.5" y2="176.5" stroke="#000" stroke-width="1.3"/>
<polygon points="447.5,182.0 444.0,175.5 451.0,175.5" fill="#000" stroke="none"/>
<line x1="465.3" y1="162.5" x2="465.3" y2="188.7" stroke="#000" stroke-width="1.3"/>
<polygon points="465.3,194.2 461.8,187.7 468.8,187.7" fill="#000" stroke="none"/>
<line x1="480.3" y1="162.5" x2="480.3" y2="195.1" stroke="#000" stroke-width="1.3"/>
<polygon points="480.3,200.6 476.8,194.1 483.8,194.1" fill="#000" stroke="none"/>
<line x1="495.3" y1="162.5" x2="495.3" y2="206.8" stroke="#000" stroke-width="1.3"/>
<polygon points="495.3,212.3 491.8,205.8 498.8,205.8" fill="#000" stroke="none"/>
</g>
</svg>
</body></html>
